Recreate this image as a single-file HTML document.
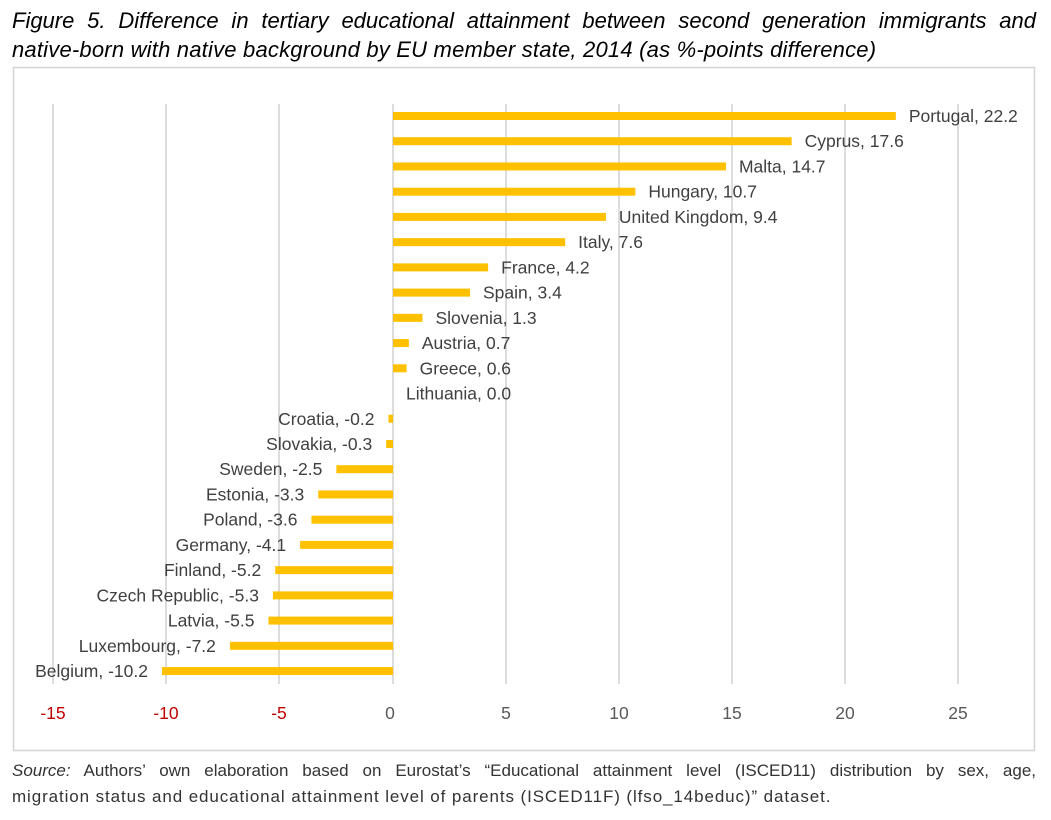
<!DOCTYPE html>
<html><head><meta charset="utf-8"><style>
body{margin:0;width:1051px;height:820px;background:#fff;font-family:"Liberation Sans",sans-serif;overflow:hidden}
.t{position:absolute;left:12px;width:1024px;font-style:italic;font-size:22px;line-height:29px;color:#000;white-space:nowrap}
.j{text-align:justify;text-align-last:justify}
.s{position:absolute;left:12px;width:1024px;font-size:17px;line-height:26px;color:#333;white-space:nowrap}
svg{position:absolute;left:0;top:0}
</style></head><body>
<div class="t j" style="top:6px">Figure 5. Difference in tertiary educational attainment between second generation immigrants and</div>
<div class="t" style="top:35px;letter-spacing:0.2px">native-born with native background by EU member state, 2014 (as %-points difference)</div>
<svg width="1051" height="820" font-family="Liberation Sans, sans-serif" font-size="17.5">
<rect x="13.5" y="67.5" width="1021" height="683" fill="none" stroke="#d4d4d4" stroke-width="1.5"/>
<g stroke="#d0d0d0" stroke-width="1.5">
<line x1="53" y1="104" x2="53" y2="684"/><line x1="166" y1="104" x2="166" y2="684"/><line x1="279" y1="104" x2="279" y2="684"/><line x1="393" y1="104" x2="393" y2="684"/><line x1="506" y1="104" x2="506" y2="684"/><line x1="619" y1="104" x2="619" y2="684"/><line x1="732" y1="104" x2="732" y2="684"/><line x1="845" y1="104" x2="845" y2="684"/><line x1="958" y1="104" x2="958" y2="684"/>
</g>
<g id="bars" fill="#ffc000"></g>
<g id="labs" fill="#404040"></g>
<g font-size="17.5" text-anchor="middle">
<text x="53" y="719" fill="#c00000">-15</text><text x="166" y="719" fill="#c00000">-10</text><text x="279" y="719" fill="#c00000">-5</text>
<text x="390" y="719" fill="#595959">0</text><text x="506" y="719" fill="#595959">5</text><text x="619" y="719" fill="#595959">10</text><text x="732" y="719" fill="#595959">15</text><text x="845" y="719" fill="#595959">20</text><text x="958" y="719" fill="#595959">25</text>
</g>
</svg>
<div class="s j" style="top:758px"><i>Source:</i> Authors’ own elaboration based on Eurostat’s “Educational attainment level (ISCED11) distribution by sex, age,</div>
<div class="s" style="top:784px;letter-spacing:0.9px">migration status and educational attainment level of parents (ISCED11F) (lfso_14beduc)” dataset.</div>
<script>
var d=[["Portugal","22.2"],["Cyprus","17.6"],["Malta","14.7"],["Hungary","10.7"],["United Kingdom","9.4"],["Italy","7.6"],["France","4.2"],["Spain","3.4"],["Slovenia","1.3"],["Austria","0.7"],["Greece","0.6"],["Lithuania","0.0"],["Croatia","-0.2"],["Slovakia","-0.3"],["Sweden","-2.5"],["Estonia","-3.3"],["Poland","-3.6"],["Germany","-4.1"],["Finland","-5.2"],["Czech Republic","-5.3"],["Latvia","-5.5"],["Luxembourg","-7.2"],["Belgium","-10.2"]];
var ns="http://www.w3.org/2000/svg",b=document.getElementById("bars"),l=document.getElementById("labs");
d.forEach(function(r,i){var v=parseFloat(r[1]),y=116+i*25.23,x0=393,x1=393+v*22.65;
var re=document.createElementNS(ns,"rect");re.setAttribute("x",Math.min(x0,x1));re.setAttribute("y",y-4);re.setAttribute("width",Math.abs(x1-x0));re.setAttribute("height",8);b.appendChild(re);
var t=document.createElementNS(ns,"text");t.textContent=r[0]+", "+r[1];t.setAttribute("y",y+6);
if(v>=0){t.setAttribute("x",Math.max(x1,393)+13);}else{t.setAttribute("x",x1-14);t.setAttribute("text-anchor","end");}
l.appendChild(t);});
</script>
</body></html>
